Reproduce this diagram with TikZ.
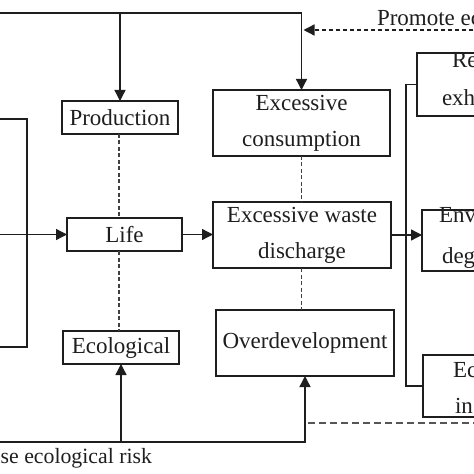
\documentclass[tikz,border=0pt]{standalone}
\usepackage{fontspec}
\setmainfont{Liberation Serif}
\usetikzlibrary{arrows.meta}
\definecolor{ink}{HTML}{1E1E1E}
\begin{document}
\begin{tikzpicture}[x=1bp,y=-1bp,
  txt/.style={font=\fontsize{23bp}{36bp}\selectfont, text=ink},
  box/.style={draw=ink, line width=2.2bp, inner sep=0pt, outer sep=0pt, align=center, txt},
  lbl/.style={inner sep=0pt, outer sep=0pt, txt},
  conn/.style={draw=ink, line width=1.3bp},
  arr/.style={conn, -{Triangle[length=11bp,width=11bp]}},
  dsh/.style={draw=ink!85, line width=1.5bp, dash pattern=on 4bp off 2.5bp},
  dshb/.style={draw=ink!75, line width=1.3bp, dash pattern=on 7bp off 4bp},
  dsha/.style={draw=ink, line width=1.3bp, dash pattern=on 4bp off 3bp, -{Triangle[length=11bp,width=11bp]}},
]
\useasboundingbox (0,0) rectangle (474,474);
\clip (0,0) rectangle (474,474);

% left column
\node[box, minimum width=116bp, minimum height=33bp] (prod) at (120,117.5) {Production};
\node[box, minimum width=115bp, minimum height=33bp] (life) at (124.5,234.5) {Life};
\node[box, minimum width=116bp, minimum height=33bp] (eco) at (121,347.5) {Ecological};

% middle column
\node[box, minimum width=177bp, minimum height=66bp] (cons) at (301.5,123) {Excessive\\consumption};
\node[box, minimum width=178bp, minimum height=66bp] (waste) at (302,235) {Excessive waste\\discharge};
\node[box, minimum width=178bp, minimum height=66bp] (over) at (305,343) {Overdevelopment};

% right column (cut off by the picture edge)
\node[box, minimum width=150bp, minimum height=63bp] (r1) at (492,84.5) {};
\node[box, minimum width=150bp, minimum height=61bp] (r2) at (497,240.5) {};
\node[box, minimum width=150bp, minimum height=62bp] (r3) at (498,386) {};
\node[lbl, anchor=base west] (r1a) at (452,68) {Re};
\node[lbl, anchor=base west] (r1b) at (442,106) {exh};
\node[lbl, anchor=base west] (r2a) at (439,223) {Env};
\node[lbl, anchor=base west] (r2b) at (442,263) {deg};
\node[lbl, anchor=base west] (r3a) at (453,377) {Ec};
\node[lbl, anchor=base west] (r3b) at (455,413) {in};

% labels
\node[lbl, anchor=base west] (promote) at (377,26) {Promote ec};
\node[lbl, anchor=base east, font=\fontsize{21.8bp}{26bp}\selectfont] (risk) at (152,463) {ase ecological risk};

% coordinates
\coordinate (tl) at (-5,13);
\coordinate (bl) at (-5,442);
\coordinate (ptr) at (480,30);
\coordinate (ptl) at (303.5,30);
\coordinate (dbl) at (308,423);
\coordinate (dbr) at (480,423);
\coordinate (lb1) at (-5,119);
\coordinate (lb2) at (27,119);
\coordinate (lb3) at (27,347);
\coordinate (lb4) at (-5,347);
\coordinate (la) at (-5,234.5);
\coordinate (dx) at (119,0);

% top feedback
\draw[arr] (tl) -| (cons.north);
\draw[arr] (prod.north |- tl) -- (prod.north);
\draw[dsha] (ptr) -- (ptl);

% bottom feedback
\draw[arr] (bl) -| (over.south);
\draw[arr] (eco.south |- bl) -- (eco.south);
\draw[dshb] (dbl) -- (dbr);

% left bracket and arrow
\draw[conn] (lb1) -- (lb2) -- (lb3) -- (lb4);
\draw[arr] (la) -- (life.west);

% main flow
\draw[arr] (life.east) -- (life.east -| waste.west);
\draw[arr] (waste.east) -- (waste.east -| r2.west);
\draw[conn] (r1.west) -| ++(-11,0) |- (r3.west);

% dotted links
\draw[dsh] (dx |- prod.south) -- (dx |- life.north);
\draw[dsh] (dx |- life.south) -- (dx |- eco.north);
\draw[dsh] (cons.south) -- (cons.south |- waste.north);
\draw[dsh] (cons.south |- waste.south) -- (cons.south |- over.north);
\end{tikzpicture}
\end{document}
